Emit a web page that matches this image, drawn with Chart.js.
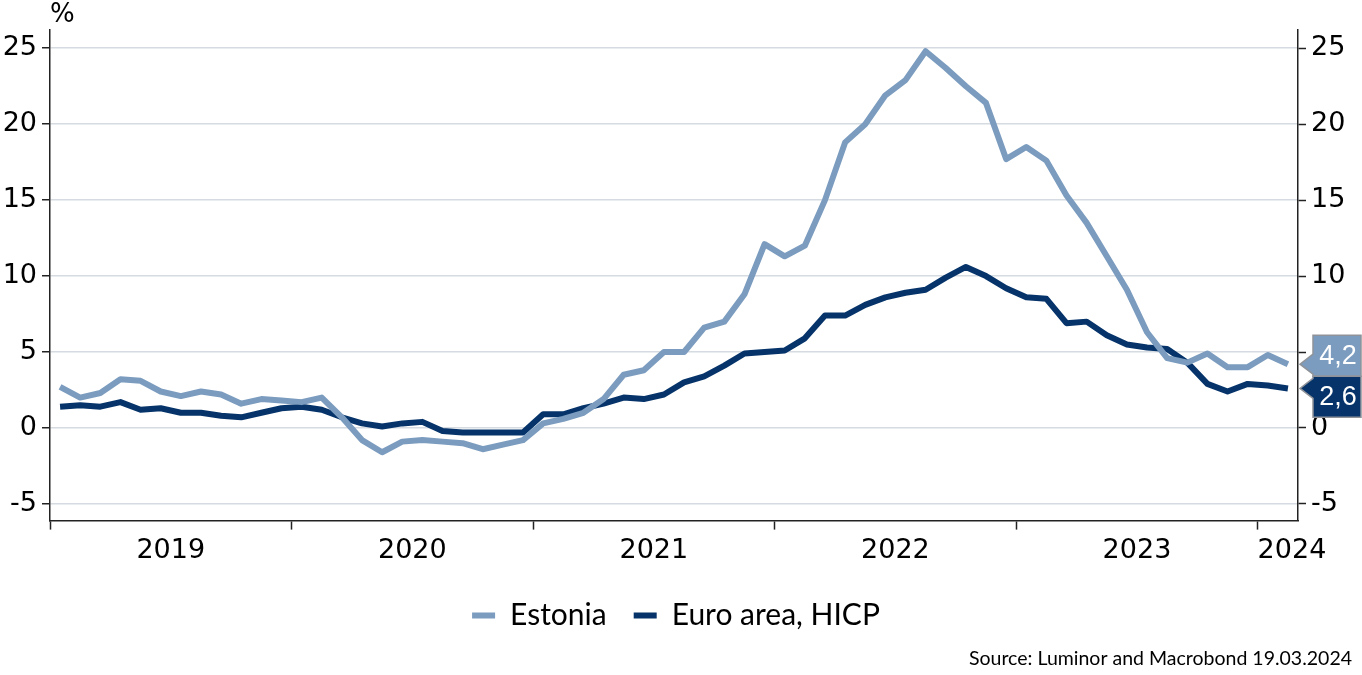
<!DOCTYPE html>
<html>
<head>
<meta charset="utf-8">
<script src="https://cdn.jsdelivr.net/npm/chart.js@4.4.1/dist/chart.umd.min.js"></script>
<style>
  html, body { margin: 0; padding: 0; background: #ffffff; }
  #wrap { width: 1362px; height: 675px; }
</style>
</head>
<body>
<div id="wrap"><canvas id="c" width="1362" height="675"></canvas></div>
<script>
// ---------- DATA ----------
const months = [];
for (let y = 2019; y <= 2024; y++) {
  for (let m = 1; m <= 12; m++) {
    if (y === 2024 && m > 2) break;
    months.push(y + '-' + String(m).padStart(2, '0'));
  }
}
const yearLabels = ['2019', '2020', '2021', '2022', '2023', '2024'];
const estonia = [
  2.7, 2.0, 2.3, 3.2, 3.1, 2.4, 2.1, 2.4, 2.2, 1.6, 1.9, 1.8,
  1.7, 2.0, 0.7, -0.8, -1.6, -0.9, -0.8, -0.9, -1.0, -1.4, -1.1, -0.8,
  0.3, 0.6, 1.0, 1.9, 3.5, 3.8, 5.0, 5.0, 6.6, 7.0, 8.8, 12.1,
  11.3, 12.0, 15.0, 18.8, 20.0, 21.9, 22.9, 24.8, 23.7, 22.5, 21.4, 17.7,
  18.5, 17.6, 15.3, 13.5, 11.3, 9.1, 6.3, 4.6, 4.3, 4.9, 4.0, 4.0,
  4.8, 4.2
];
const euroArea = [
  1.4, 1.5, 1.4, 1.7, 1.2, 1.3, 1.0, 1.0, 0.8, 0.7, 1.0, 1.3,
  1.4, 1.2, 0.7, 0.3, 0.1, 0.3, 0.4, -0.2, -0.3, -0.3, -0.3, -0.3,
  0.9, 0.9, 1.3, 1.6, 2.0, 1.9, 2.2, 3.0, 3.4, 4.1, 4.9, 5.0,
  5.1, 5.9, 7.4, 7.4, 8.1, 8.6, 8.9, 9.1, 9.9, 10.6, 10.0, 9.2,
  8.6, 8.5, 6.9, 7.0, 6.1, 5.5, 5.3, 5.2, 4.3, 2.9, 2.4, 2.9,
  2.8, 2.6
];
const yTicks = [-5, 0, 5, 10, 15, 20, 25];
const seriesNames = ['Estonia', 'Euro area, HICP'];
const sourceText = 'Source: Luminor and Macrobond 19.03.2024';

// ---------- STYLE ----------
const COL_EE = '#7b9cbf';
const COL_EA = '#06346a';
const GRID = '#d6dbe2';
const AXIS = '#222222';
const TICKFONT = { family: 'DejaVu Sans', size: 27 };

const toPts = arr => arr.map((v, i) => ({ x: i + 0.5, y: v }));
const nMonths = months.length;

// x ticks: year boundaries (tick marks) and year centres (labels)
const xTickVals = [];
const xLabelMap = {};
yearLabels.forEach((yl, k) => {
  const start = 12 * k;
  if (start <= nMonths) xTickVals.push(start);
  const centre = Math.min(start + 6, nMonths - 0.3);
  xTickVals.push(centre);
  xLabelMap[centre] = yl;
});

const endLabels = {
  id: 'endLabels',
  afterDraw(chart) {
    const { ctx, chartArea } = chart;
    const ys = chart.scales.y;
    const h = 41;
    const items = chart.data.datasets.map((ds, i) => {
      const v = ds.data[ds.data.length - 1].y;
      return { v, py: ys.getPixelForValue(v), color: ds.borderColor };
    }).sort((a, b) => a.py - b.py);
    const total = h * items.length;
    const mean = items.reduce((s, it) => s + it.py, 0) / items.length;
    let top = mean - total / 2;
    items.forEach(it => { it.top = top; top += h; });
    const tipX = chartArea.right + 2;
    const boxL = chartArea.right + 15;
    const boxR = chart.width - 1;
    items.forEach(it => {
      const t = it.top, b = it.top + h;
      const a1 = Math.max(it.py - 10, t), a2 = Math.min(it.py + 10, b);
      ctx.save();
      ctx.beginPath();
      ctx.moveTo(boxL, t);
      ctx.lineTo(boxR, t);
      ctx.lineTo(boxR, b);
      ctx.lineTo(boxL, b);
      ctx.lineTo(boxL, a2);
      ctx.lineTo(tipX, it.py);
      ctx.lineTo(boxL, a1);
      ctx.closePath();
      ctx.fillStyle = it.color;
      ctx.fill();
      ctx.lineWidth = 1.5;
      ctx.strokeStyle = '#8f9399';
      ctx.stroke();
      ctx.fillStyle = '#ffffff';
      ctx.font = '27px "Liberation Sans", Arial, sans-serif';
      ctx.textAlign = 'center';
      ctx.textBaseline = 'middle';
      ctx.fillText(it.v.toFixed(1).replace('.', ','), (boxL + boxR) / 2 + 1, (t + b) / 2 + 1);
      ctx.restore();
    });
  }
};

const yCommon = {
  type: 'linear',
  min: -6.1,
  max: 26.2,
  afterBuildTicks: s => { s.ticks = yTicks.map(v => ({ value: v })); },
  ticks: { font: TICKFONT, color: '#000', padding: 5 },
  border: { display: true, color: AXIS, width: 1.5 }
};

new Chart(document.getElementById('c'), {
  type: 'line',
  data: {
    datasets: [
      { label: seriesNames[0], data: toPts(estonia), borderColor: COL_EE, backgroundColor: COL_EE,
        borderWidth: 6, pointRadius: 0, borderJoinStyle: 'round', tension: 0, yAxisID: 'y' },
      { label: seriesNames[1], data: toPts(euroArea), borderColor: COL_EA, backgroundColor: COL_EA,
        borderWidth: 6, pointRadius: 0, borderJoinStyle: 'round', tension: 0, yAxisID: 'y' }
    ]
  },
  options: {
    responsive: false,
    animation: false,
    devicePixelRatio: 1,
    layout: { padding: { left: 0, right: 10, top: 0, bottom: 0 } },
    scales: {
      x: {
        type: 'linear',
        min: 0,
        max: nMonths,
        afterBuildTicks: s => { s.ticks = xTickVals.map(v => ({ value: v })); },
        afterFit: s => { s.height = 53; },
        ticks: {
          autoSkip: false, maxRotation: 0, font: TICKFONT, color: '#000', padding: 5,
          callback: v => xLabelMap[v] || ''
        },
        grid: {
          drawOnChartArea: false, drawTicks: true, tickLength: 9, tickWidth: 1.5,
          tickColor: c => (c.tick && c.tick.value % 12 === 0) ? AXIS : 'rgba(0,0,0,0)'
        },
        border: { display: true, color: AXIS, width: 1.5 }
      },
      y: Object.assign({}, yCommon, {
        position: 'left',
        afterFit: s => { s.width = 50; },
        grid: { color: GRID, lineWidth: 1.5, tickLength: 8, tickColor: AXIS, tickWidth: 1.5 }
      }),
      y2: Object.assign({}, yCommon, {
        position: 'right',
        afterFit: s => { s.width = 54; },
        grid: { drawOnChartArea: false, tickLength: 8, tickColor: AXIS, tickWidth: 1.5 }
      })
    },
    plugins: {
      title: {
        display: true, text: '%', align: 'start', fullSize: false,
        color: '#000', font: { family: 'DejaVu Sans', size: 26, weight: 'normal', lineHeight: 1 },
        padding: { top: 2, bottom: 2 }
      },
      subtitle: {
        display: true, text: sourceText, position: 'bottom', align: 'end',
        color: '#000', font: { family: 'Lato', size: 19.5, lineHeight: 1.2 },
        padding: { top: 6, bottom: 5 }
      },
      legend: {
        display: true, position: 'bottom',
        labels: {
          color: '#000', font: { family: 'Lato', size: 30 }, boxWidth: 23, boxHeight: 6, padding: 27,
          generateLabels: chart => chart.data.datasets.map((ds, i) => ({
            text: ds.label, fillStyle: ds.borderColor, strokeStyle: ds.borderColor,
            lineWidth: 0, hidden: false, datasetIndex: i, fontColor: '#000'
          }))
        }
      },
      tooltip: { enabled: false }
    }
  },
  plugins: [endLabels]
});
</script>
</body>
</html>
